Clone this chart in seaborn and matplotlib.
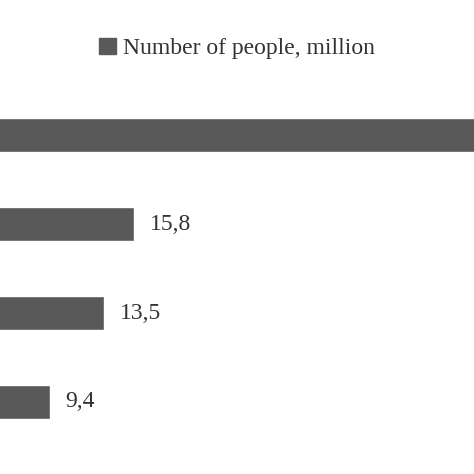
import matplotlib
matplotlib.use("Agg")
import matplotlib.pyplot as plt
import seaborn as sns
import pandas as pd
from matplotlib.patches import Patch

categories = ["Group 1", "Group 2", "Group 3", "Group 4"]
values = [45.0, 15.8, 13.5, 9.4]
labels = ["", "15,8", "13,5", "9,4"]

df = pd.DataFrame({"category": categories, "value": values})

sns.set_style("white")
plt.rcParams['font.family'] = ['Liberation Serif', 'DejaVu Serif']

fig = plt.figure(figsize=(4.74, 4.74), dpi=100)
ax = fig.add_axes([0, 0, 1, 1])
sns.barplot(data=df, y="category", x="value", color="#595959", width=0.38,
            saturation=1, ax=ax)

for i, (v, lab) in enumerate(zip(values, labels)):
    if lab:
        ax.text(v + 1.2, i, lab, va="center", ha="left", fontsize=17, color="#333333")

ax.set_xlim(5.6, 41.7)
ax.set_ylim(3.81, -1.52)
ax.axis("off")

ax.legend(handles=[Patch(color="#595959", label="Number of people, million")],
          loc="upper center", bbox_to_anchor=(0.5, 0.965), frameon=False,
          fontsize=17, handlelength=0.7, handleheight=0.7, handletextpad=0.3,
          labelcolor="#333333")

fig.savefig("out.png", dpi=100)
